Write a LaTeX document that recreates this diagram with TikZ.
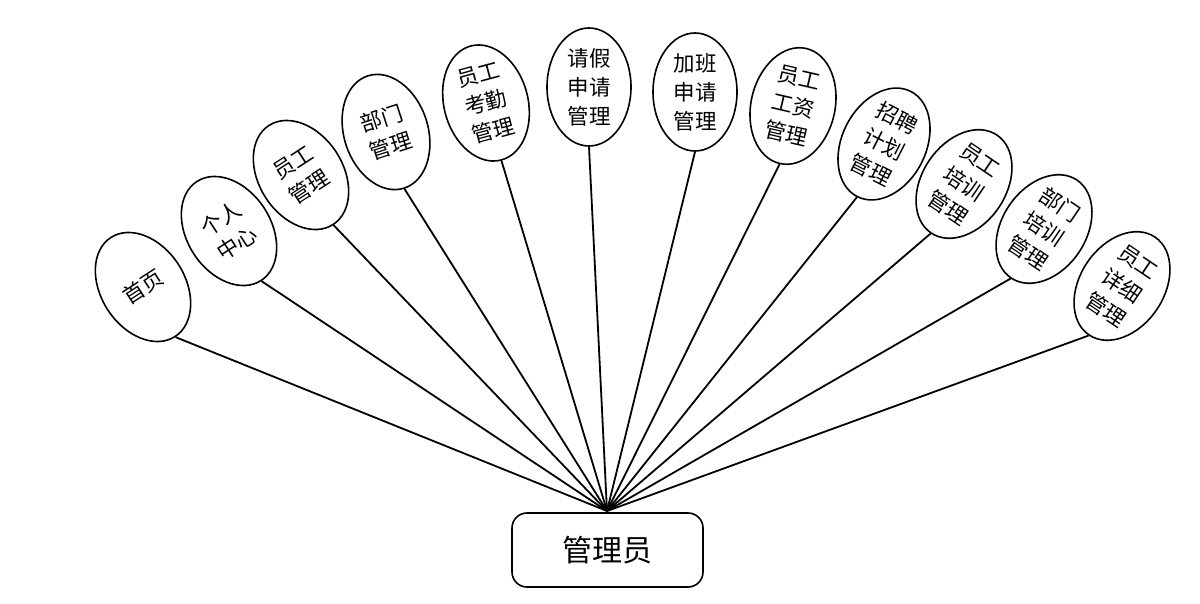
\documentclass[tikz,border=0pt]{standalone}
\usepackage{fontspec}
\newfontfamily\cjk{Noto Sans CJK SC}
\usetikzlibrary{shapes.geometric}
\begin{document}
\begin{tikzpicture}[x=1pt,y=1pt,
  leaf/.style={draw=black,line width=1.6pt,ellipse,fill=white,minimum width=84pt,minimum height=118pt,inner sep=0pt,align=center,font=\cjk\fontsize{21.5}{29}\selectfont},
  conn/.style={draw=black,line width=1.8pt},
  rootbox/.style={draw=black,line width=1.6pt,rounded corners=15pt,minimum width=191pt,minimum height=74pt,inner sep=0pt,font=\cjk\fontsize{30}{34}\selectfont}]
\useasboundingbox (0,0) rectangle (1200,603);
\coordinate (hub) at (607,92);
\node[rootbox] (root) at (607.5,53) {管理员};
\node[leaf,rotate=33] (e1) at (143,316) {首页};
\node[leaf,rotate=33] (e2) at (229,372) {个人\\中心};
\node[leaf,rotate=33] (e3) at (301,428) {员工\\管理};
\node[leaf,rotate=18] (e4) at (386,471) {部门\\管理};
\node[leaf,rotate=15] (e5) at (486,500) {员工\\考勤\\管理};
\node[leaf] (e6) at (589,516) {请假\\申请\\管理};
\node[leaf] (e7) at (695,511) {加班\\申请\\管理};
\node[leaf,rotate=-13] (e8) at (793,497) {员工\\工资\\管理};
\node[leaf,rotate=-27] (e9) at (884,459) {招聘\\计划\\管理};
\node[leaf,rotate=-34] (e10) at (964,419) {员工\\培训\\管理};
\node[leaf,rotate=-34] (e11) at (1044,374) {部门\\培训\\管理};
\node[leaf,rotate=-34] (e12) at (1122,317) {员工\\详细\\管理};
\foreach \i in {1,...,12} { \draw[conn] (e\i.south) -- (hub); }
\end{tikzpicture}
\end{document}
